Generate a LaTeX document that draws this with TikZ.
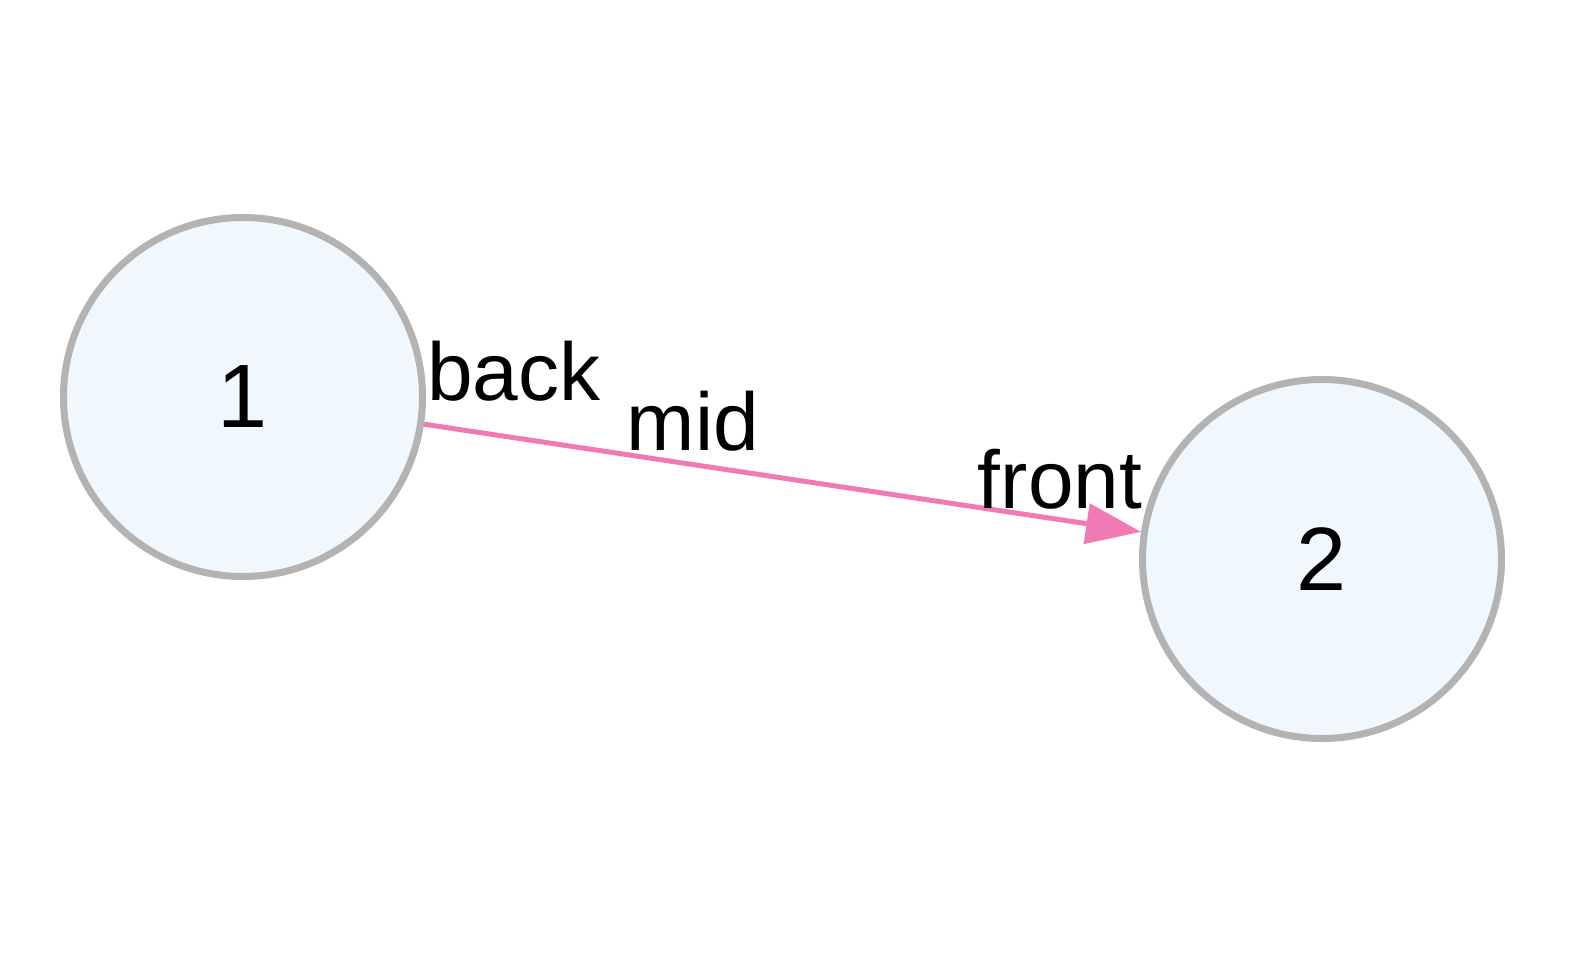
\documentclass[tikz,border=0pt]{standalone}
\usepackage{fontspec}
\setmainfont{Liberation Sans}
\usetikzlibrary{arrows.meta}
\definecolor{nodefill}{HTML}{F0F7FD}
\definecolor{nodeline}{HTML}{B3B3B3}
\definecolor{edgepink}{HTML}{F07AB4}
\begin{document}
\begin{tikzpicture}[x=1pt,y=-1pt,
  vertex/.style={circle,draw=nodeline,fill=nodefill,line width=7pt,minimum size=359pt,inner sep=0pt,font=\fontsize{90}{90}\selectfont},
  elabel/.style={anchor=base,inner sep=0pt,font=\fontsize{82}{82}\selectfont},
  link/.style={draw=edgepink,line width=5pt,-{Triangle[length=55pt,width=40pt]}}]
\useasboundingbox (0,0) rectangle (1586,972);
\node[vertex] (n1) at (243,397) {1};
\node[vertex] (n2) at (1322,559) {2};
\draw[link] (n1) -- (n2);
\node[elabel] (lb) at (514,400) {back};
\node[elabel] (lm) at (693,450) {mid};
\node[elabel] (lf) at (1060,508) {front};
\end{tikzpicture}
\end{document}
